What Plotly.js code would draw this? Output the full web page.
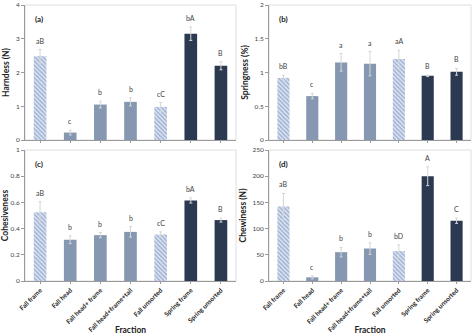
<!DOCTYPE html>
<html><head><meta charset="utf-8">
<script src="https://cdn.plot.ly/plotly-3.0.1.min.js"></script>
<style>html,body{margin:0;padding:0;background:#fff}#c{width:474px;height:335px}</style>
</head><body><div id="c"></div>
<script>
const categories = ["Fall frame","Fall head","Fall head+ frame","Fall head+frame+tail","Fall unsorted","Spring frame","Spring unsorted"];
const hardness = [2.48, 0.22, 1.05, 1.13, 0.98, 3.15, 2.2];
const hardnessErr = [0.2, 0.07, 0.1, 0.12, 0.13, 0.2, 0.12];
const hardnessLbl = ["aB","c","b","b","cC","bA","B"];
const springiness = [0.92, 0.65, 1.15, 1.13, 1.2, 0.95, 1.01];
const springinessErr = [0.04, 0.04, 0.13, 0.18, 0.13, 0.01, 0.05];
const springinessLbl = ["bB","c","a","a","aA","B","B"];
const cohesiveness = [0.525, 0.315, 0.35, 0.375, 0.355, 0.615, 0.465];
const cohesivenessErr = [0.08, 0.03, 0.02, 0.04, 0.02, 0.02, 0.015];
const cohesivenessLbl = ["aB","b","b","b","cC","bA","B"];
const chewiness = [142, 7, 55, 62, 57, 200, 115];
const chewinessErr = [25, 3, 9, 11, 12, 18, 5];
const chewinessLbl = ["aB","c","b","b","bD","A","C"];
const groups = ["hatch","solid","solid","solid","hatch","dark","dark"];

const FONT = "Lato, 'Liberation Sans', sans-serif";
const colorMap = {solid:"#8597b1", dark:"#2c3a51"};

function traces(vals, errs, xa, ya){
  const solid = {
    type:"bar", x:categories, y:vals.map((v,i)=>groups[i]==="hatch"?null:v), xaxis:xa, yaxis:ya, width:0.42,
    marker:{color:groups.map(g=>colorMap[g]||"#fff"), line:{width:0}},
    error_y:{type:"data", array:errs.map((e,i)=>groups[i]==="hatch"?null:e), visible:true, color:"#d6d6d6", thickness:1, width:1.5},
    hoverinfo:"none", showlegend:false
  };
  const hatch = {
    type:"bar", x:categories, y:vals.map((v,i)=>groups[i]==="hatch"?v:null), xaxis:xa, yaxis:ya, width:0.42,
    marker:{color:"#dfe6f2", line:{width:0},
      pattern:{shape:"\\", fgcolor:"#5d7cb4", bgcolor:"#dfe6f2", size:3, solidity:0.5, fillmode:"overlay"}},
    error_y:{type:"data", array:errs.map((e,i)=>groups[i]==="hatch"?e:null), visible:true, color:"#d6d6d6", thickness:1, width:1.5},
    hoverinfo:"none", showlegend:false
  };
  return [solid, hatch];
}
function labels(vals, errs, lbls, xa, ya){
  return vals.map((v,i)=>({x:categories[i], y:v+errs[i], xref:xa, yref:ya, text:lbls[i], showarrow:false, yanchor:"bottom", yshift:3, font:{family:FONT,size:7,color:"#444444"}}));
}
const data = [].concat(
  traces(hardness, hardnessErr, "x", "y"),
  traces(springiness, springinessErr, "x2", "y2"),
  traces(cohesiveness, cohesivenessErr, "x3", "y3"),
  traces(chewiness, chewinessErr, "x4", "y4")
);
const W=474, H=335;
const dl=[25/W,236/W], dr=[269/W,471/W];
const dt=[1-140/H,1-5/H], db=[1-281/H,1-150/H];
function xax(dom, anchor, showLabels, titleText){
  const a = {domain:dom, anchor:anchor, type:"category", showline:true, linecolor:"#9a9a9a", linewidth:1,
    tickmode:"array", tickvals:categories, ticktext:categories.map(c=>"<b>"+c+"</b>"),
    ticks:"outside", ticklen:2, tickcolor:"#9a9a9a", showgrid:false, zeroline:false,
    showticklabels:showLabels, tickangle:-45, tickfont:{family:FONT,size:6.5,color:"#222"}, fixedrange:true};
  if(titleText) a.title = {text:"<b>"+titleText+"</b>", font:{family:FONT,size:8.5,color:"#222"}, standoff:3};
  return a;
}
function yax(dom, anchor, range, dtick, titleText){
  return {domain:dom, anchor:anchor, range:range, dtick:dtick, showline:true, linecolor:"#9a9a9a", linewidth:1,
    ticks:"outside", ticklen:3, tickcolor:"#9a9a9a", showgrid:false, zeroline:false,
    tickfont:{family:FONT,size:6.5,color:"#444"},
    title:{text:"<b>"+titleText+"</b>", font:{family:FONT,size:8.5,color:"#222"}, standoff:4}, fixedrange:true};
}
const frame = (xa, ya)=>({type:"rect", xref:xa+" domain", yref:ya+" domain", x0:0,x1:1,y0:0,y1:1, line:{color:"#dedede", width:1}, layer:"below"});
const panelLbl = (t, xa, ya)=>({text:"<b>"+t+"</b>", xref:xa+" domain", yref:ya+" domain", x:0.04, y:0.95, xanchor:"left", yanchor:"top", showarrow:false, font:{family:FONT,size:8,color:"#222"}});
const layout = {
  width:W, height:H, margin:{l:0,r:0,t:0,b:0}, paper_bgcolor:"#fff", plot_bgcolor:"rgba(0,0,0,0)",
  showlegend:false, barmode:"overlay",
  xaxis: xax(dl,"y",false), yaxis: yax(dt,"x",[0,4],1,"Harndess (N)"),
  xaxis2: xax(dr,"y2",false), yaxis2: yax(dt,"x2",[0,2],0.5,"Springness (%)"),
  xaxis3: xax(dl,"y3",true,"Fraction"), yaxis3: yax(db,"x3",[0,1],0.2,"Cohesiveness"),
  xaxis4: xax(dr,"y4",true,"Fraction"), yaxis4: yax(db,"x4",[0,250],50,"Chewiness (N)"),
  shapes:[frame("x","y"),frame("x2","y2"),frame("x3","y3"),frame("x4","y4")],
  annotations:[].concat(
    labels(hardness,hardnessErr,hardnessLbl,"x","y"),
    labels(springiness,springinessErr,springinessLbl,"x2","y2"),
    labels(cohesiveness,cohesivenessErr,cohesivenessLbl,"x3","y3"),
    labels(chewiness,chewinessErr,chewinessLbl,"x4","y4"),
    [panelLbl("(a)","x","y"),panelLbl("(b)","x2","y2"),panelLbl("(c)","x3","y3"),panelLbl("(d)","x4","y4")]
  )
};
Plotly.newPlot("c", data, layout, {displayModeBar:false, staticPlot:true});
</script></body></html>
